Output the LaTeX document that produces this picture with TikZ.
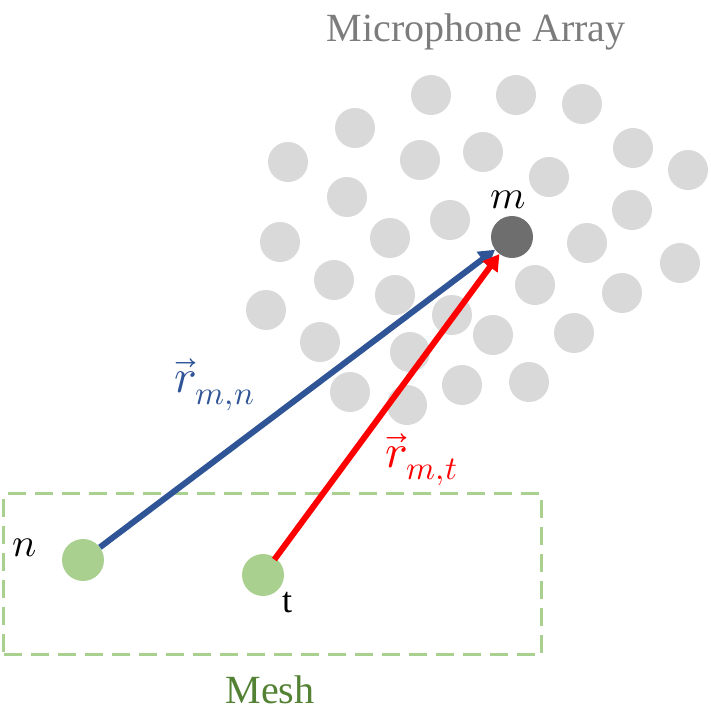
\documentclass[tikz,border=0pt]{standalone}
\usepackage{fontspec}
\setmainfont{Liberation Serif}
\usepackage{unicode-math}
\setmathfont{Latin Modern Math}
\usepackage{graphicx}
\usetikzlibrary{arrows.meta}
\definecolor{mic}{RGB}{217,217,217}
\definecolor{micdark}{RGB}{110,110,110}
\definecolor{gr}{RGB}{169,208,142}
\definecolor{grdark}{RGB}{84,130,53}
\definecolor{bl}{RGB}{47,85,151}
\newcommand{\lblmath}[2][2.8]{\scalebox{#1}{\Large$#2$}}
\tikzset{micc/.style={circle,fill=mic,minimum size=40pt,inner sep=0pt},
 meshpt/.style={circle,fill=gr,minimum size=42pt,inner sep=0pt},
 vec/.style={line width=6pt,-{Triangle[length=16pt,width=18pt]}},
 lbl/.style={inner sep=0pt}}
\begin{document}
\begin{tikzpicture}[x=1pt,y=-1pt]
\useasboundingbox (0,0) rectangle (711,724);
\foreach \i/\x/\y in {1/431/95,2/516/95,3/582/104,4/355/128,5/633/148,6/688/170,7/288/162,8/420/160,9/483/152,10/549/177,11/347/197,12/632/210,13/280/242,14/390/238,15/450/220,16/587/243,17/680/263,18/334/280,19/395/295,20/535/285,21/622/293,22/266/310,23/320/342,24/452/315,25/493/335,26/574/333,27/410/352,28/350/392,29/407/405,30/462/385,31/529/382}
  \node[micc] (c\i) at (\x,\y) {};
\node[circle,fill=micdark,minimum size=42pt,inner sep=0pt] (m) at (512,237) {};
\node[lbl] (ml) at (508,200) {\lblmath{m}};
\node[font=\fontsize{40}{44}\selectfont,text=micdark!90] (title) at (476,32) {Microphone Array};
\node[draw=gr,dashed,dash pattern=on 18pt off 9pt,line width=3pt,minimum width=538pt,minimum height=161pt,anchor=north west] (mesh) at (2,492) {};
\node[font=\fontsize{40}{44}\selectfont,text=grdark] (meshl) at (270,690) {Mesh};
\node[meshpt] (n) at (83,560) {};
\node[meshpt] (t) at (263,575) {};
\node[lbl] (nl) at (25,548) {\lblmath{n}};
\node[font=\fontsize{36}{40}\selectfont] (tl) at (287,603) {t};
\draw[vec,bl] (n) -- (m);
\draw[vec,red,shorten <=-2pt] (t) -- (m);
\node[lbl,text=bl] (rn) at (215,385) {\lblmath[3.3]{\vec{r}_{m,n}}};
\node[lbl,text=red] (rt) at (422,460) {\lblmath[3.3]{\vec{r}_{m,t}}};
\end{tikzpicture}
\end{document}
